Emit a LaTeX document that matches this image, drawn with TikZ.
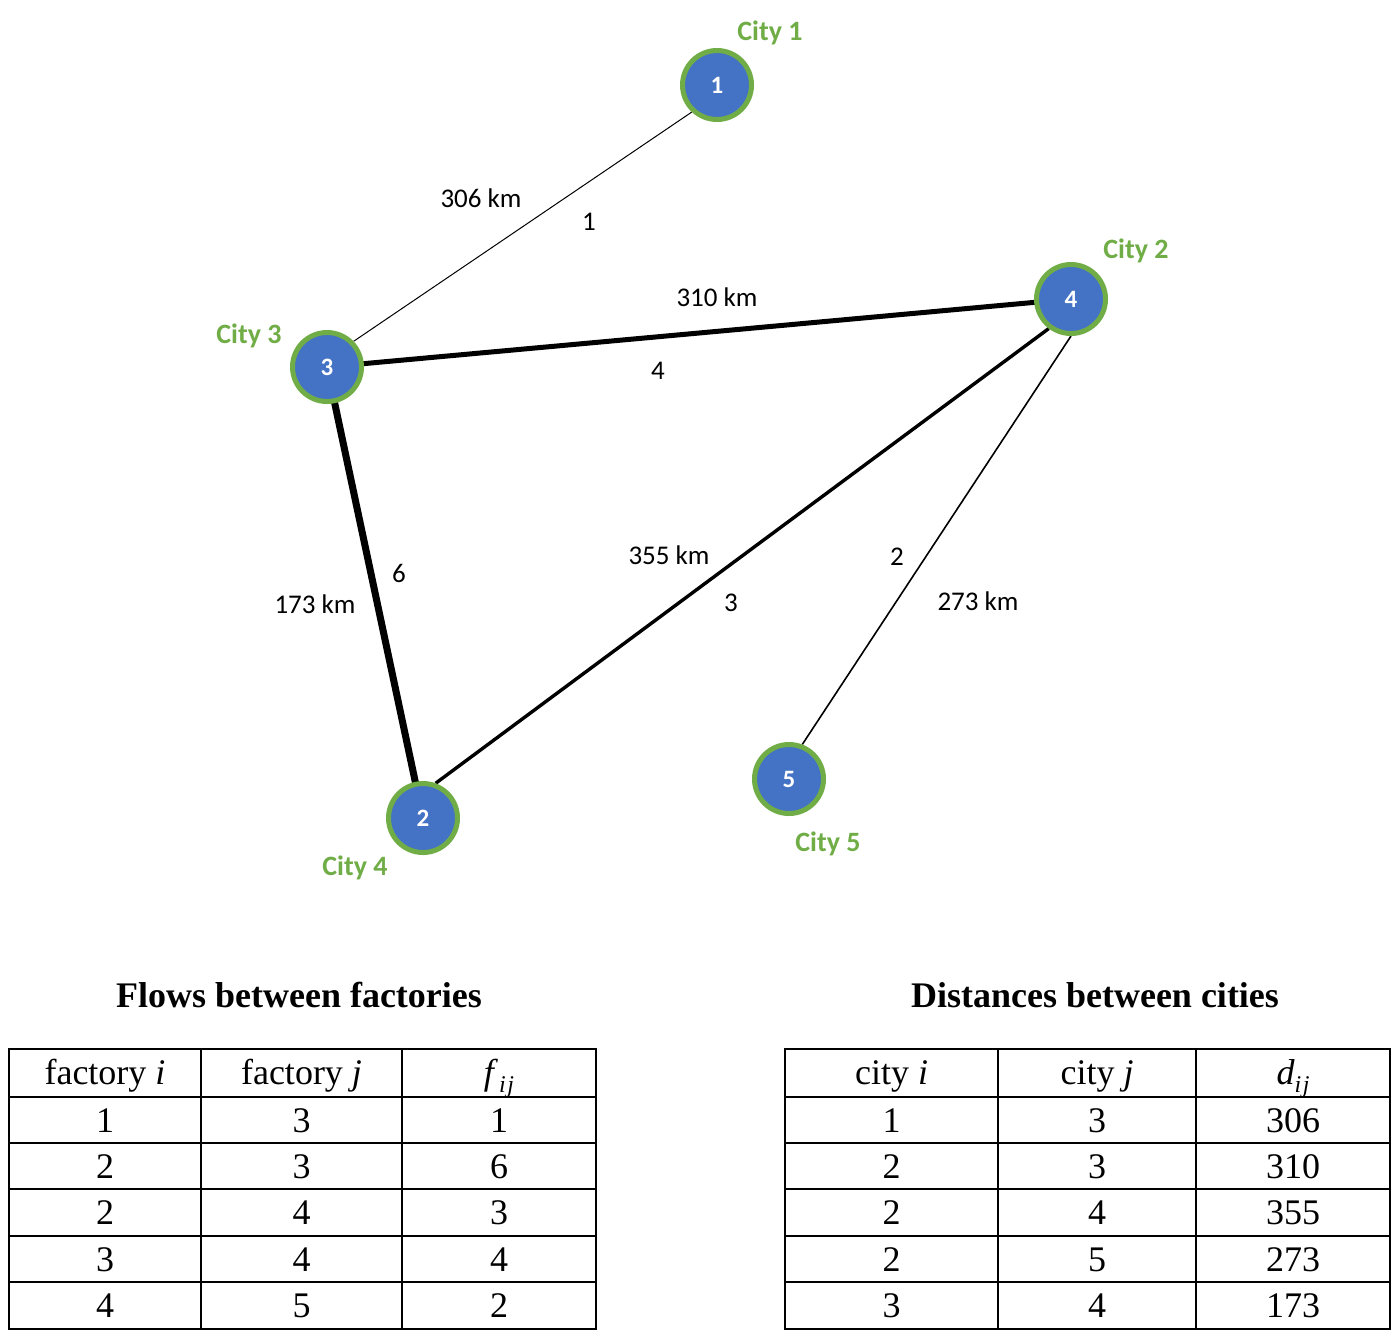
\documentclass[tikz,border=0pt]{standalone}
\usepackage{fontspec}
\setmainfont{Liberation Serif}
\newfontfamily\calib{Carlito}
\usetikzlibrary{backgrounds}
\definecolor{cblue}{HTML}{4472C4}
\definecolor{cgreen}{HTML}{70AD47}
\newcommand{\mysub}[1]{\raisebox{-0.5ex}{\fontsize{12}{12}\selectfont\itshape #1}}
\begin{document}
\begin{tikzpicture}[x=0.5pt,y=-0.5pt,
  city/.style={circle, fill=cblue, draw=cgreen, line width=2.5pt, minimum size=34.5pt, inner sep=0pt,
    font=\calib\bfseries\fontsize{12.5}{14}\selectfont, text=white},
  clabel/.style={font=\calib\bfseries\fontsize{14}{16}\selectfont, text=cgreen, anchor=base, inner sep=0pt},
  elabel/.style={font=\calib\fontsize{13.5}{16}\selectfont, inner sep=0pt},
  tline/.style={line width=1.1pt},
  cell/.style={font=\fontsize{18}{20}\selectfont, anchor=base, inner sep=0pt},
  ttitle/.style={font=\bfseries\fontsize{18}{20}\selectfont, anchor=base, inner sep=0pt}]
\useasboundingbox (0,0) rectangle (1400,1340);

% city nodes
\node[city] (n1) at (717,85) {1};
\node[city] (n4) at (1071,299) {4};
\node[city] (n3) at (327,367) {3};
\node[city] (n2) at (423,818) {2};
\node[city] (n5) at (789,779) {5};

% city labels
\node[clabel] (l1) at (770,40) {City 1};
\node[clabel] (l2) at (1136,258) {City 2};
\node[clabel] (l3) at (249,343) {City 3};
\node[clabel] (l4) at (355,875) {City 4};
\node[clabel] (l5) at (828,851) {City 5};

% edges
\begin{scope}[on background layer]
\draw[line width=0.5pt] (n3.44) -- (n1.227);
\draw[line width=2.5pt] (n3.center) -- (n4.center);
\draw[line width=3.5pt] (n3.center) -- (n2.center);
\draw[line width=1.7pt] (n2.70) -- (n4.233);
\draw[line width=0.8pt] (n4.south) -- (n5.69);
\end{scope}

% edge labels
\node[elabel] (e13d) at (481,198) {306 km};
\node[elabel] (e13f) at (589,222) {1};
\node[elabel] (e34d) at (717,297) {310 km};
\node[elabel] (e34f) at (658,371) {4};
\node[elabel] (e32f) at (399,573) {6};
\node[elabel] (e32d) at (315,604) {173 km};
\node[elabel] (e24d) at (669,555) {355 km};
\node[elabel] (e24f) at (731,603) {3};
\node[elabel] (e45f) at (897,557) {2};
\node[elabel] (e45d) at (978,601) {273 km};

% table 1
\node[ttitle] (t1title) at (299,1007) {Flows between factories};
\draw[tline] (9,1049) rectangle (596,1329);
\foreach \y in {1097,1143,1189.3,1236,1282.3} \draw[tline] (9,\y) -- (596,\y);
\foreach \x in {201,402} \draw[tline] (\x,1049) -- (\x,1329);
\node[cell] (t1h1) at (105,1084) {factory \textit{i}};
\node[cell] (t1h2) at (301.5,1084) {factory \textit{j}};
\node[cell] (t1h3) at (499,1084) {\textit{f}\kern0.5pt\mysub{i\kern0.8pt j}};
\foreach \a/\b/\c [count=\r] in {1/3/1,2/3/6,2/4/3,3/4/4,4/5/2} {
  \pgfmathsetmacro\yb{1085.6+46.4*\r}
  \node[cell] (t1r\r a) at (105,\yb) {\a};
  \node[cell] (t1r\r b) at (301.5,\yb) {\b};
  \node[cell] (t1r\r c) at (499,\yb) {\c};
}

% table 2
\node[ttitle] (t2title) at (1095,1007) {Distances between cities};
\draw[tline] (785,1049) rectangle (1390,1329);
\foreach \y in {1097,1143,1189.3,1236,1282.3} \draw[tline] (785,\y) -- (1390,\y);
\foreach \x in {998,1196} \draw[tline] (\x,1049) -- (\x,1329);
\node[cell] (t2h1) at (891.5,1084) {city \textit{i}};
\node[cell] (t2h2) at (1097,1084) {city \textit{j}};
\node[cell] (t2h3) at (1293,1084) {\textit{d}\mysub{i\kern0.8pt j}};
\foreach \a/\b/\c [count=\r] in {1/3/306,2/3/310,2/4/355,2/5/273,3/4/173} {
  \pgfmathsetmacro\yb{1085.6+46.4*\r}
  \node[cell] (t2r\r a) at (891.5,\yb) {\a};
  \node[cell] (t2r\r b) at (1097,\yb) {\b};
  \node[cell] (t2r\r c) at (1293,\yb) {\c};
}
\end{tikzpicture}
\end{document}
